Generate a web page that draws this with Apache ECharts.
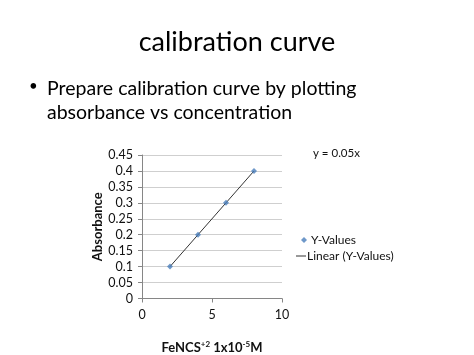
<!DOCTYPE html>
<html><head><meta charset="utf-8">
<style>html,body{margin:0;padding:0;background:#fff}#c{width:474px;height:355px}</style>
<script src="https://cdn.jsdelivr.net/npm/echarts@6/dist/echarts.min.js"></script>
</head><body><div id="c"></div>
<script>
const concentration = [2, 4, 6, 8];
const absorbance = [0.1, 0.2, 0.3, 0.4];
const yTicks = [0, 0.05, 0.1, 0.15, 0.2, 0.25, 0.3, 0.35, 0.4, 0.45];
const xTicks = [0, 5, 10];
const titleText = 'calibration curve';
const bulletLines = ['Prepare calibration curve by plotting', 'absorbance vs concentration'];

// least-squares trendline through origin (Excel "Linear" with intercept 0)
let sxy = 0, sxx = 0;
concentration.forEach((x, i) => { sxy += x * absorbance[i]; sxx += x * x; });
const slope = sxy / sxx;
const xMin = Math.min(...concentration), xMax = Math.max(...concentration);
const trend = [[xMin, slope * xMin], [xMax, slope * xMax]];
const eqText = 'y = ' + (+slope.toFixed(4)) + 'x';

const FONT = 'Lato';
const chart = echarts.init(document.getElementById('c'));
chart.setOption({
  animation: false,
  textStyle: { fontFamily: FONT },
  grid: { left: 142, right: 192, top: 155, bottom: 55, containLabel: false },
  xAxis: {
    type: 'value', min: xTicks[0], max: xTicks[xTicks.length - 1], interval: xTicks[1] - xTicks[0],
    axisLine: { show: true, lineStyle: { color: '#868686' } },
    axisTick: { show: true, inside: false, length: 4, lineStyle: { color: '#868686' } },
    splitLine: { show: false },
    axisLabel: { color: '#111', fontSize: 12.5, margin: 10, fontFamily: FONT },
    name: '{b|FeNCS}{s|+2}{b| 1x10}{s|-5}{b|M}',
    nameLocation: 'middle', nameGap: 42,
    nameTextStyle: { rich: {
      b: { fontSize: 13, fontWeight: 'bold', color: '#111', fontFamily: FONT },
      s: { fontSize: 8, fontWeight: 'bold', color: '#111', fontFamily: FONT, verticalAlign: 'top', padding: [0,0,6,0] }
    } }
  },
  yAxis: {
    type: 'value', min: yTicks[0], max: yTicks[yTicks.length - 1], interval: 0.05,
    axisLine: { show: true, lineStyle: { color: '#868686' } },
    axisTick: { show: true, length: 4, lineStyle: { color: '#868686' } },
    splitLine: { show: true, lineStyle: { color: '#cfcfcf' } },
    axisLabel: { color: '#111', fontSize: 12.5, margin: 9, fontFamily: FONT,
      formatter: v => String(+v.toFixed(2)) },
    name: 'Absorbance', nameLocation: 'middle', nameGap: 33, nameRotate: 90,
    nameTextStyle: { fontSize: 13, fontWeight: 'bold', color: '#111', fontFamily: FONT }
  },
  legend: [
    { data: [{ name: 'Y-Values', icon: 'diamond' }], left: 301, top: 234, padding: 0, itemWidth: 6, itemHeight: 6, itemGap: 4,
      textStyle: { fontSize: 12, color: '#111', fontFamily: FONT, padding: [0,0,0,-1] }, selectedMode: false },
    { data: [{ name: 'Linear (Y-Values)', icon: 'rect' }], left: 296, top: 250, padding: 0, itemWidth: 10, itemHeight: 1, itemGap: 2,
      textStyle: { fontSize: 12, color: '#111', fontFamily: FONT, padding: [0,0,0,-4] }, selectedMode: false }
  ],
  graphic: [
    { type: 'text', left: 'center', top: 29, style: { text: titleText, font: '27px Lato', fill: '#000' } },
    { type: 'text', left: 29, top: 79, style: { text: '•', font: '15px Lato', fill: '#000' } },
    { type: 'text', left: 47, top: 76, style: { text: bulletLines.join('\n'), font: '19.5px Lato', lineHeight: 24.5, fill: '#000' } },
    { type: 'text', left: 313, top: 147, style: { text: eqText, font: '11.5px Lato', fill: '#111' } }
  ],
  series: [
    { name: 'Linear (Y-Values)', type: 'line', data: trend, showSymbol: false, symbol: 'none',
      lineStyle: { color: '#333', width: 1 }, itemStyle: { color: '#333' }, z: 2 },
    { name: 'Y-Values', type: 'scatter', symbol: 'diamond', symbolSize: 6,
      data: concentration.map((x, i) => [x, absorbance[i]]),
      itemStyle: { color: '#4a7ebb' }, z: 3 }
  ]
});
</script></body></html>
